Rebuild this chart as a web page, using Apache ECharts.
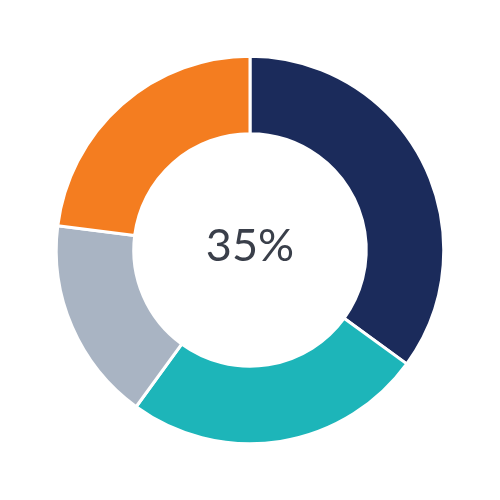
<!DOCTYPE html>
<html><head><meta charset="utf-8">
<script src="https://cdn.jsdelivr.net/npm/echarts@6/dist/echarts.min.js"></script>
<style>html,body{margin:0;padding:0;background:#fff}#c{width:500px;height:500px}</style>
</head><body><div id="c"></div>
<script>
const categories = ['A', 'B', 'C', 'D'];
const values = [35, 25, 17, 23];
const colors = ['#1b2b5b', '#1db5b9', '#a9b4c3', '#f47d20'];
const centerLabel = '35%';

const chart = echarts.init(document.getElementById('c'));
chart.setOption({
  animation: false,
  graphic: [{
    type: 'text', left: 'center', top: 224,
    style: { text: centerLabel, font: 'normal 45px Lato', fill: '#3a3f4a' }
  }],
  series: [{
    type: 'pie',
    center: ['50%', '50%'],
    radius: ['46.5%', '77.5%'],
    startAngle: 90,
    clockwise: true,
    label: { show: false },
    labelLine: { show: false },
    itemStyle: { borderColor: '#fff', borderWidth: 3 },
    data: categories.map((c, i) => ({ name: c, value: values[i], itemStyle: { color: colors[i] } }))
  }]
});
</script></body></html>
